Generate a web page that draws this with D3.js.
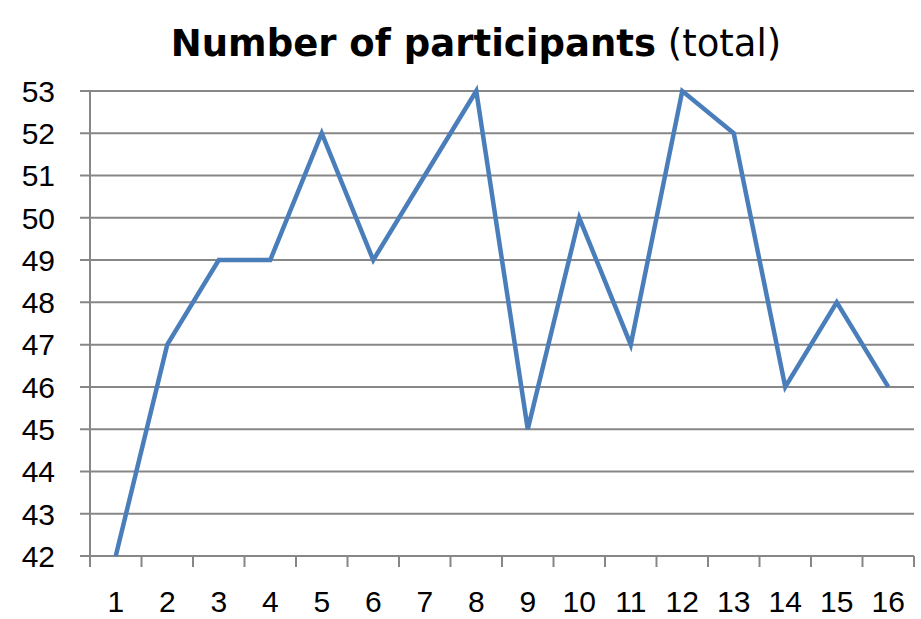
<!DOCTYPE html>
<html><head><meta charset="utf-8">
<script src="https://d3js.org/d3.v7.min.js"></script>
<style>body{margin:0;background:#fff}</style>
</head><body>
<svg id="c" width="921" height="619"></svg>
<script>
const categories = ["1","2","3","4","5","6","7","8","9","10","11","12","13","14","15","16"];
const values = [42,47,49,49,52,49,51,53,45,50,47,53,52,46,48,46];
const yTicks = [42,43,44,45,46,47,48,49,50,51,52,53];
const title = "Number of participants";
const titleSuffix = " (total)";

const svg = d3.select("#c");
const m = {l:90, r:7, t:91, b:63};
const W = 921, H = 619;
const x = d3.scaleBand().domain(categories).range([m.l, W-m.r]);
const y = d3.scaleLinear().domain([42,53]).range([H-m.b, m.t]);

// gridlines
svg.append("g").selectAll("line").data(yTicks).join("line")
  .attr("x1", m.l-10).attr("x2", W-m.r)
  .attr("y1", d=>y(d)).attr("y2", d=>y(d))
  .attr("stroke", "#878787").attr("stroke-width", 2);

// y axis line
svg.append("line").attr("x1", m.l).attr("x2", m.l).attr("y1", m.t).attr("y2", H-m.b)
  .attr("stroke", "#878787").attr("stroke-width", 2);

// x axis ticks
const edges = categories.map(c=>x(c)).concat([W-m.r]);
svg.append("g").selectAll("line").data(edges).join("line")
  .attr("x1", d=>d).attr("x2", d=>d).attr("y1", H-m.b).attr("y2", H-m.b+11)
  .attr("stroke", "#878787").attr("stroke-width", 2);

// y labels
svg.append("g").selectAll("text").data(yTicks).join("text")
  .attr("x", 55).attr("y", d=>y(d)).attr("dy", "0.36em")
  .attr("text-anchor", "end")
  .attr("font-family", "Liberation Sans, Arial, sans-serif").attr("font-size", 30)
  .attr("fill", "#000").text(d=>d);

// x labels
svg.append("g").selectAll("text").data(categories).join("text")
  .attr("x", d=>x(d)+x.bandwidth()/2).attr("y", 612)
  .attr("text-anchor", "middle")
  .attr("font-family", "Liberation Sans, Arial, sans-serif").attr("font-size", 30)
  .attr("fill", "#000").text(d=>d);

// line
const line = d3.line().x((d,i)=>x(categories[i])+x.bandwidth()/2).y(d=>y(d));
svg.append("path").datum(values).attr("d", line)
  .attr("fill", "none").attr("stroke", "#4a7ebb").attr("stroke-width", 4.5)
  .attr("stroke-linejoin", "miter");

// title
const t = svg.append("text").attr("x", 476).attr("y", 56).attr("text-anchor", "middle")
  .attr("font-family", "DejaVu Sans, sans-serif").attr("font-size", 37).attr("fill", "#000");
t.append("tspan").attr("font-weight", "bold").text(title);
t.append("tspan").attr("font-weight", "normal").text(titleSuffix);
</script>
</body></html>
